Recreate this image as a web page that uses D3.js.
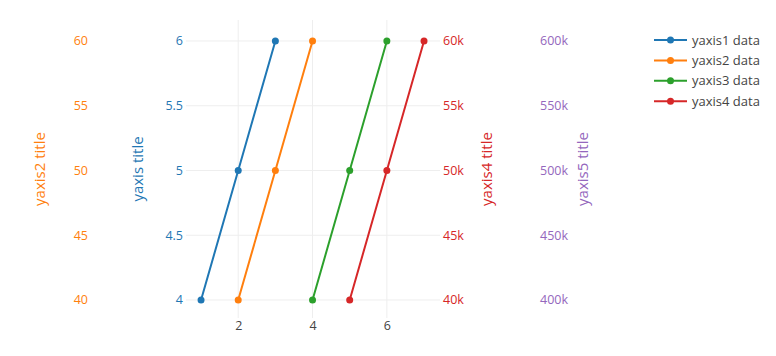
<!doctype html>
<html>
<head>
<script src="https://cdnjs.cloudflare.com/ajax/libs/d3/7.8.5/d3.min.js"></script>
<style>
body { margin: 0; background: #fff; }
text { font-family: "Open Sans", sans-serif; }
.grid line { stroke: #eee; stroke-width: 1px; }
</style>
</head>
<body>
<svg id="chart" width="776" height="356"></svg>
<script>
// data, one array per series
var names = ["yaxis1 data", "yaxis2 data", "yaxis3 data", "yaxis4 data"]
var colors = ["#1f77b4", "#ff7f0e", "#2ca02c", "#d62728"]
var x1 = [1, 2, 3], y1 = [4, 5, 6]
var x2 = [2, 3, 4], y2 = [40, 50, 60]
var x3 = [4, 5, 6], y3 = [40000, 50000, 60000]
var x4 = [5, 6, 7], y4 = [40000, 50000, 60000]
var xTicks = [2, 4, 6]
var yTicks1 = [4, 4.5, 5, 5.5, 6]
var yTicks2 = [40, 45, 50, 55, 60]
var yTicks4 = [40000, 45000, 50000, 55000, 60000]
var yTicks5 = [400000, 450000, 500000, 550000, 600000]

var svg = d3.select("#chart")
var pLeft = 186, pRight = 440, pTop = 20, pBottom = 318

var x = d3.scaleLinear().domain([0.595, 7.43]).range([pLeft, pRight])
var yA = d3.scaleLinear().domain([3.861, 6.162]).range([pBottom, pTop])
var yB = d3.scaleLinear().domain([38.61, 61.62]).range([pBottom, pTop])
var yC = d3.scaleLinear().domain([38610, 61620]).range([pBottom, pTop])
var yD = d3.scaleLinear().domain([38610, 61620]).range([pBottom, pTop])
var yE = d3.scaleLinear().domain([386100, 616200]).range([pBottom, pTop])

// grid
var grid = svg.append("g").attr("class", "grid")
grid.selectAll("line.v").data(xTicks).enter().append("line")
  .attr("x1", d => x(d)).attr("x2", d => x(d)).attr("y1", pTop).attr("y2", pBottom)
grid.selectAll("line.h").data(yTicks1).enter().append("line")
  .attr("x1", pLeft).attr("x2", pRight).attr("y1", d => yA(d)).attr("y2", d => yA(d))

function axis(gen, tx, ty, color, fmt) {
  var g = svg.append("g").attr("transform", "translate(" + tx + "," + ty + ")")
    .call(gen.tickSize(0).tickPadding(0).tickFormat(fmt))
  g.select(".domain").remove()
  g.selectAll("text").attr("fill", color).style("font-size", "12.5px")
    .style("font-family", "Open Sans, sans-serif")
  return g
}
var kfmt = d => (d / 1000) + "k"

axis(d3.axisBottom(x).tickValues(xTicks), 0, 321, "#444", d3.format("d"))
axis(d3.axisLeft(yA).tickValues(yTicks1), 183, 0, "#1f77b4", d => d)
axis(d3.axisLeft(yB).tickValues(yTicks2), 88, 0, "#ff7f0e", d => d)
axis(d3.axisRight(yD).tickValues(yTicks4), 443, 0, "#d62728", kfmt)
axis(d3.axisRight(yE).tickValues(yTicks5), 540, 0, "#9467bd", kfmt)

// axis titles
var titles = [["yaxis2 title", 40, "#ff7f0e"], ["yaxis title", 138, "#1f77b4"],
  ["yaxis4 title", 487, "#d62728"], ["yaxis5 title", 583, "#9467bd"]]
svg.selectAll("text.ytitle").data(titles).enter().append("text")
  .attr("class", "ytitle")
  .attr("transform", d => "translate(" + (d[1] + 5) + "," + ((pTop + pBottom) / 2) + ") rotate(-90)")
  .attr("text-anchor", "middle")
  .style("font-size", "15px")
  .attr("fill", d => d[2])
  .text(d => d[0])

// traces
var series = [[x1, y1, yA], [x2, y2, yB], [x3, y3, yC], [x4, y4, yD]]
series.forEach(function(s, i) {
  var pts = s[0].map((v, j) => [x(v), s[2](s[1][j])])
  svg.append("path").attr("d", d3.line()(pts))
    .attr("fill", "none").attr("stroke", colors[i]).attr("stroke-width", 2)
  svg.selectAll(null).data(pts).enter().append("circle")
    .attr("cx", d => d[0]).attr("cy", d => d[1]).attr("r", 3.5)
    .attr("fill", colors[i])
})

// legend
var leg = svg.append("g").selectAll("g").data(names).enter().append("g")
  .attr("transform", (d, i) => "translate(654," + (40 + i * 20.4) + ")")
leg.append("line").attr("x1", 0).attr("x2", 33)
  .attr("stroke", (d, i) => colors[i]).attr("stroke-width", 2)
leg.append("circle").attr("cx", 16.5).attr("r", 3.5).attr("fill", (d, i) => colors[i])
leg.append("text").attr("x", 38).attr("dy", "0.35em")
  .style("font-size", "13px").attr("fill", "#444").text(d => d)
</script>
</body>
</html>
